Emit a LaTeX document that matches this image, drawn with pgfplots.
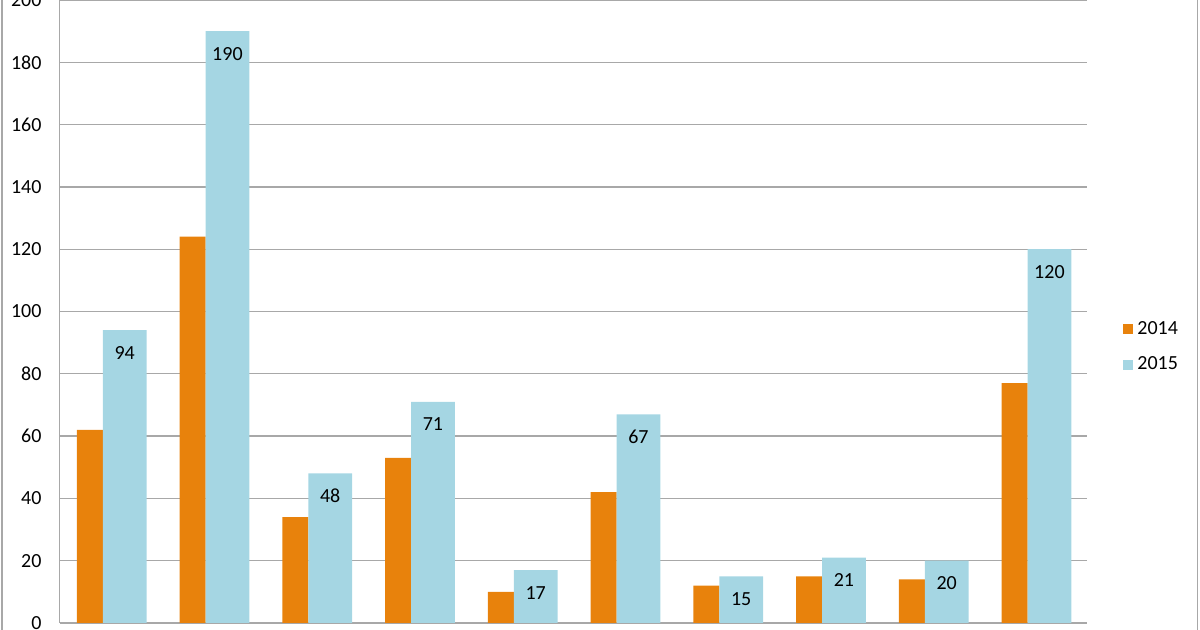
\documentclass[border=0pt]{standalone}
\usepackage{fontspec}
\setmainfont{Carlito}
\usepackage{pgfplots}
\pgfplotsset{compat=1.18}
\definecolor{orng}{RGB}{232,130,12}
\definecolor{lblue}{RGB}{165,214,227}
\definecolor{gridg}{RGB}{168,168,168}
\begin{document}
\begin{tikzpicture}
\useasboundingbox (0,0) rectangle (600pt,315pt);
\clip (0,0) rectangle (600pt,315pt);
\draw[gridg, line width=0.7pt] (0.9pt,0) -- (0.9pt,315pt);
\draw[gridg, line width=0.7pt] (598.8pt,0) -- (598.8pt,315pt);
\begin{axis}[
  at={(29.75pt,3.5pt)}, anchor=south west,
  scale only axis, width=513.75pt, height=311.5pt,
  xmin=-0.5, xmax=9.5, ymin=0, ymax=200,
  ytick={0,20,...,200}, xtick=\empty,
  ymajorgrids, grid style={gridg, line width=0.65pt},
  axis x line*=bottom, axis y line*=left,
  axis line style={gridg, line width=0.65pt},
  major tick length=0pt,
  tick label style={font=\fontsize{10}{11}\selectfont},
  yticklabel style={xshift=-5.5pt},
  /pgf/number format/assume math mode=true,
  ybar,
  legend cell align=left,
  legend style={at={(1,0.443)}, anchor=west, xshift=15pt, draw=none, fill=none,
    font=\fontsize{10}{11}\selectfont, row sep=6pt},
  legend image code/.code={\fill[#1] (0pt,-2.5pt) rectangle (5pt,2.5pt);},
]
\addplot[fill=orng, draw=none, bar width=12.9pt, bar shift=-10.5pt]
  coordinates {(0,62) (1,124) (2,34) (3,53) (4,10) (5,42) (6,12) (7,15) (8,14) (9,77)};
\addplot[fill=lblue, draw=none, bar width=21.85pt, bar shift=6.9pt,
  nodes near coords,
  every node near coord/.append style={anchor=center, yshift=-11.3pt, text=black,
    font=\fontsize{10}{11}\selectfont}]
  coordinates {(0,94) (1,190) (2,48) (3,71) (4,17) (5,67) (6,15) (7,21) (8,20) (9,120)};
\legend{2014,2015}
\end{axis}
\end{tikzpicture}
\end{document}
